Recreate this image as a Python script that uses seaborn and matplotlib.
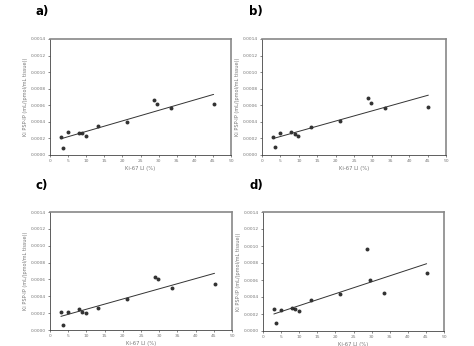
import matplotlib
matplotlib.use("Agg")
import matplotlib.pyplot as plt
import seaborn as sns
import pandas as pd
import numpy as np

sns.set_theme(style="white")
plt.rcParams['font.family'] = ['DejaVu Sans']

ki67 = [3.0, 3.6, 5.0, 7.9, 8.9, 9.9, 13.3, 21.2, 28.8, 29.6, 33.5, 45.2]
ki_a = [0.000221, 0.000089, 0.000278, 0.000270, 0.000261, 0.000225, 0.000346, 0.000394, 0.000664, 0.000620, 0.000567, 0.000620]
ki_b = [0.000217, 0.000097, 0.000266, 0.000274, 0.000253, 0.000229, 0.000338, 0.000406, 0.000684, 0.000628, 0.000567, 0.000580]
ki_c = [0.000213, 0.000056, 0.000213, 0.000245, 0.000217, 0.000197, 0.000257, 0.000373, 0.000630, 0.000602, 0.000497, 0.000546]
ki_d = [0.000256, 0.000091, 0.000245, 0.000276, 0.000256, 0.000233, 0.000359, 0.000430, 0.000966, 0.000599, 0.000450, 0.000678]

panel_labels = ["a)", "b)", "c)", "d)"]
x_label = "Ki-67 LI (%)"
y_labels = ["Ki PSP-IP (mL/(pmol/mL tissue))",
            "Ki PSP-IP (mL/(pmol/mL tissue))",
            "Ki PSP-IP (mL/(pmol/mL tissue))",
            "Ki PSP-IP (mL/(pmol/mL tissue))"]
x_ticks = [0, 5, 10, 15, 20, 25, 30, 35, 40, 45, 50]
y_ticks = [0.0000, 0.0002, 0.0004, 0.0006, 0.0008, 0.0010, 0.0012, 0.0014]

fig = plt.figure(figsize=(4.74, 3.46), dpi=100)
W, H = 474, 346
boxes = [(50, 39, 231, 155), (262, 39, 446, 155), (50, 212, 232, 330), (263, 212, 444, 331)]
label_pos = [(35, 12), (249, 12), (35, 186), (249, 186)]
series = [ki_a, ki_b, ki_c, ki_d]

for i, (box, ys) in enumerate(zip(boxes, series)):
    l, t, r, b = box
    ax = fig.add_axes([l / W, 1 - b / H, (r - l) / W, (b - t) / H])
    df = pd.DataFrame({"x": ki67, "y": ys})
    sns.regplot(data=df, x="x", y="y", ax=ax, ci=None,
                scatter_kws=dict(s=8, color="black", linewidths=0),
                line_kws=dict(color="#333333", lw=0.7))
    ax.set_xlim(0, 50)
    ax.set_ylim(0, 0.0014)
    ax.set_xticks(x_ticks)
    ax.set_xticklabels([str(v) for v in x_ticks])
    ax.set_yticks(y_ticks)
    ax.set_yticklabels([f"{v:.4f}" for v in y_ticks])
    ax.tick_params(axis="both", labelsize=3.2, length=1.5, width=0.5, pad=1.5,
                   direction="out", colors="#555555", labelcolor="#777777")
    ax.tick_params(bottom=True, left=True)
    for name, sp in ax.spines.items():
        sp.set_visible(True)
        sp.set_color("#888888" if name in ("top", "right") else "#444444")
        sp.set_linewidth(1.2 if name in ("top", "right") else 0.6)
    ax.set_xlabel(x_label, fontsize=3.8, color="#777777", labelpad=2)
    ax.set_ylabel(y_labels[i], fontsize=3.6, color="#777777", labelpad=2)
    fig.text(label_pos[i][0] / W, 1 - label_pos[i][1] / H, panel_labels[i],
             fontsize=8.5, fontweight="bold", va="center", ha="left", color="black")

fig.savefig("out.png", dpi=100)
